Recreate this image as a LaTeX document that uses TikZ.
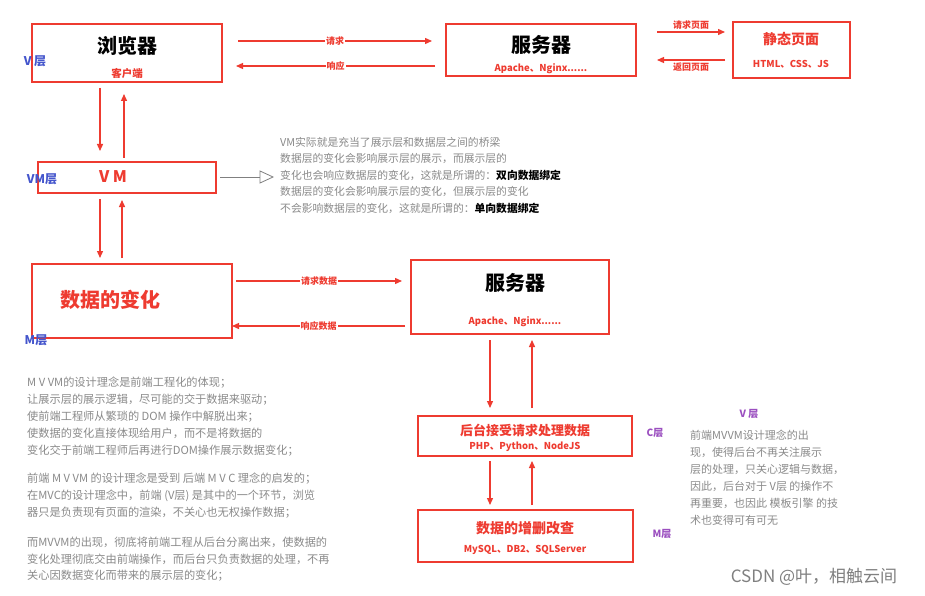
\documentclass[tikz,border=0pt]{standalone}
\usepackage{fontspec}
\setmainfont{Noto Sans CJK SC}
\usetikzlibrary{arrows.meta}
\definecolor{rd}{HTML}{EE3B30}
\definecolor{bl}{HTML}{4455CC}
\definecolor{pu}{HTML}{9B4FC0}
\definecolor{tx}{HTML}{8A8A8A}
\tikzset{
  box/.style={draw=rd,line width=1.6pt},
  arr/.style={draw=rd,line width=1.3pt,-{Triangle[length=7pt,width=6pt]}},
  lab/.style={fill=white,text=rd,font=\fontsize{9}{10}\selectfont\bfseries,inner sep=1pt},
  big/.style={font=\fontsize{20}{22}\selectfont\bfseries},
  sub/.style={text=rd,font=\fontsize{9.5}{11}\selectfont\bfseries},
  ttl/.style={text=rd,font=\fontsize{14}{16}\selectfont\bfseries},
  layer/.style={font=\fontsize{12}{13}\selectfont\bfseries},
  para/.style={text=tx,font=\fontsize{10.8}{16.5}\selectfont,align=left,anchor=north west,inner sep=0pt},
}
\begin{document}
\begin{tikzpicture}[x=1pt,y=-1pt]
\useasboundingbox[fill=white] (0,0) rectangle (925,596);
% boxes
\draw[box] (32,24) rectangle (222,82);
\node[big] (b1) at (127,46) {浏览器};
\node[sub,font=\fontsize{10.5}{12}\selectfont\bfseries] at (127,73) {客户端};
\draw[box] (446,24) rectangle (636,76);
\node[big] at (541,45) {服务器};
\node[sub] at (541,69) {Apache、Nginx......};
\draw[box] (733,22) rectangle (850,78);
\node[ttl] at (791,39) {静态页面};
\node[sub] at (791,64) {HTML、CSS、JS};
\draw[box] (38,162) rectangle (216,193);
\node[text=rd,font=\fontsize{16}{18}\selectfont\bfseries] at (113,177) {V M};
\draw[box] (32,264) rectangle (232,338);
\node[big,text=rd] at (110,300) {数据的变化};
\draw[box] (411,260) rectangle (609,334);
\node[big] at (515,283) {服务器};
\node[sub] at (515,322) {Apache、Nginx......};
\draw[box] (418,416) rectangle (632,456);
\node[ttl,font=\fontsize{13}{15}\selectfont\bfseries] at (525,430) {后台接受请求处理数据};
\node[sub] at (525,447) {PHP、Python、NodeJS};
\draw[box] (418,510) rectangle (633,562);
\node[ttl] at (525,528) {数据的增删改查};
\node[sub] at (525,550) {MySQL、DB2、SQLServer};
% layer labels
\node[layer,text=bl] at (35,61) {V 层};
\node[layer,text=bl] at (42,179) {VM层};
\node[layer,text=bl] at (36,340) {M层};
\node[layer,text=pu,font=\fontsize{10}{11}\selectfont\bfseries] at (655,433) {C层};
\node[layer,text=pu,font=\fontsize{10}{11}\selectfont\bfseries] at (662,534) {M层};
\node[layer,text=pu,font=\fontsize{10}{11}\selectfont\bfseries] at (749,414) {V 层};
% horizontal arrows
\draw[arr] (238,41) -- node[lab]{请求} (432,41);
\draw[arr] (435,66) -- node[lab]{响应} (236,66);
\draw[arr] (657,32) -- node[lab,above=1pt]{请求页面} (725,32);
\draw[arr] (725,60) -- node[lab,below=1pt]{返回页面} (657,60);
\draw[arr] (236,281) -- node[lab]{请求数据} (402,281);
\draw[arr] (405,326) -- node[lab]{响应数据} (232,326);
% vertical arrows
\draw[arr] (100,88) -- (100,151);
\draw[arr] (124,158) -- (124,94);
\draw[arr] (100,199) -- (100,258);
\draw[arr] (122,258) -- (122,200);
\draw[arr] (490,340) -- (490,408);
\draw[arr] (532,408) -- (532,340);
\draw[arr] (490,461) -- (490,505);
\draw[arr] (532,505) -- (532,461);
% hollow arrow
\draw[gray,line width=0.8pt] (220,177) -- (262,177);
\draw[gray,line width=0.8pt,fill=white] (260,171) -- (273,177) -- (260,183) -- cycle;
% texts
\node[para] at (280,137) {VM实际就是充当了展示层和数据层之间的桥梁\\数据层的变化会影响展示层的展示，而展示层的\\变化也会响应数据层的变化，这就是所谓的：\textcolor{black}{\bfseries 双向数据绑定}\\数据层的变化会影响展示层的变化，但展示层的变化\\不会影响数据层的变化，这就是所谓的：\textcolor{black}{\bfseries 单向数据绑定}};
\node[para,font=\fontsize{11.2}{16.8}\selectfont] at (27,377) {M V VM的设计理念是前端工程化的体现；\\让展示层的展示逻辑，尽可能的交于数据来驱动；\\使前端工程师从繁琐的 DOM 操作中解脱出来；\\使数据的变化直接体现给用户，而不是将数据的\\变化交于前端工程师后再进行DOM操作展示数据变化；\\[12pt]前端 M V VM 的设计理念是受到 后端 M V C 理念的启发的；\\在MVC的设计理念中，前端 (V层) 是其中的一个环节，浏览\\器只是负责现有页面的渲染，不关心也无权操作数据；\\[13pt]而MVVM的出现，彻底将前端工程从后台分离出来，使数据的\\变化处理彻底交由前端操作，而后台只负责数据的处理，不再\\关心因数据变化而带来的展示层的变化；};
\node[para,font=\fontsize{11}{17}\selectfont] at (690,430) {前端MVVM设计理念的出\\现，使得后台不再关注展示\\层的处理，只关心逻辑与数据，\\因此，后台对于 V层 的操作不\\再重要，也因此 模板引擎 的技\\术也变得可有可无};
\node[text=gray,font=\fontsize{17}{19}\selectfont] at (814,577) {CSDN @叶，相触云间};
\end{tikzpicture}
\end{document}
